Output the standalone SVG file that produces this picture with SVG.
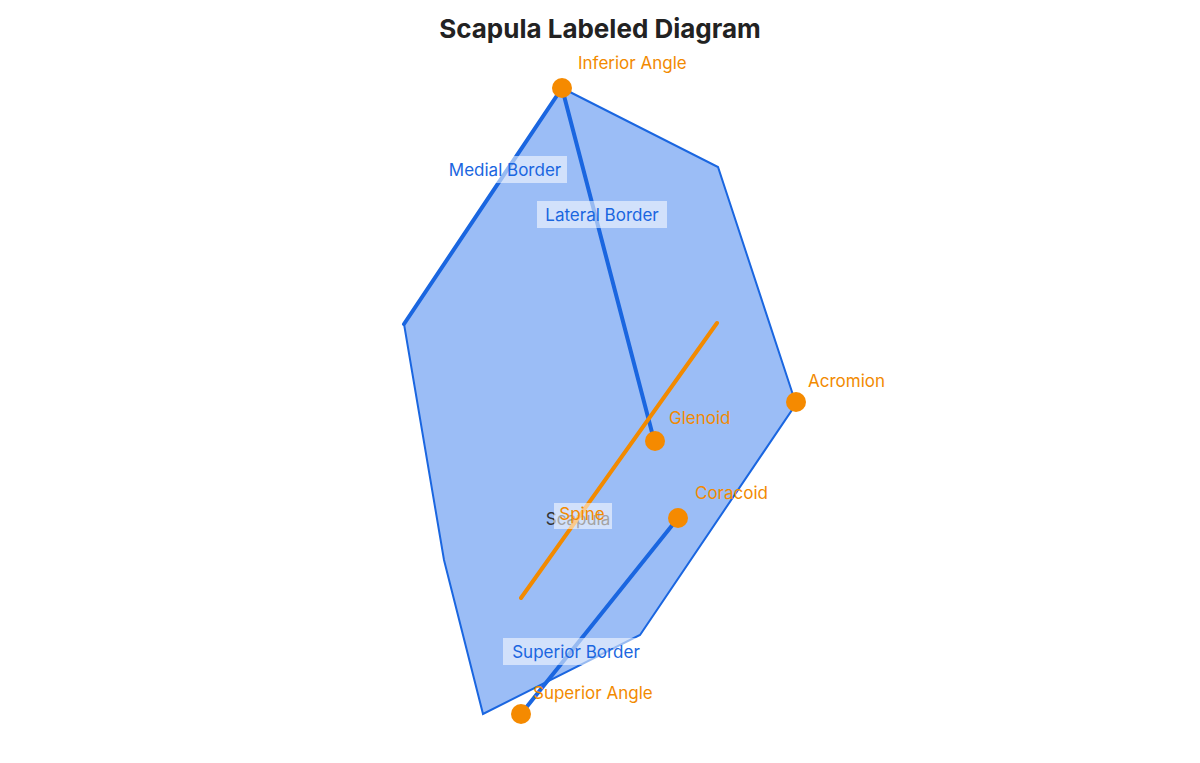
<svg xmlns="http://www.w3.org/2000/svg" width="1200" height="763" viewBox="0 0 1200 763">
<style>
text{font-family:Inter,"Liberation Sans",sans-serif;font-size:17px}
.o{fill:#f28a00}
.b{fill:#1a66e0}
.bg{fill:#ffffff;fill-opacity:0.55}
.pt{fill:#f58a00}
</style>
<rect width="1200" height="763" fill="#fff"/>
<text x="600" y="38" text-anchor="middle" style="font-size:26px;font-weight:bold" fill="#222">Scapula Labeled Diagram</text>
<g id="scapula">
<polygon points="562,88 718,167 796,404 640,635 483,714 444,560 404,324" fill="#9bbdf6" stroke="#1a66e0" stroke-width="2"/>
<text x="578" y="525" text-anchor="middle" fill="#333">Scapula</text>
</g>
<g id="connectors" stroke-linecap="round">
<line x1="404" y1="324" x2="562" y2="88" stroke="#1a66e0" stroke-width="4"/>
<line x1="562" y1="88" x2="654" y2="440" stroke="#1a66e0" stroke-width="4"/>
<line x1="521" y1="714" x2="678" y2="518" stroke="#1a66e0" stroke-width="4"/>
<line x1="521" y1="598" x2="717" y2="323" stroke="#f28a00" stroke-width="4"/>
</g>
<g id="medial-border"><rect class="bg" x="443" y="156" width="124" height="27"/><text class="b" x="505" y="176" text-anchor="middle">Medial Border</text></g>
<g id="lateral-border"><rect class="bg" x="537" y="201" width="130" height="27"/><text class="b" x="602" y="221" text-anchor="middle">Lateral Border</text></g>
<g id="superior-border"><rect class="bg" x="503" y="638" width="142" height="27"/><text class="b" x="576" y="658" text-anchor="middle">Superior Border</text></g>
<g id="spine"><rect class="bg" x="554" y="503" width="58" height="26"/><text class="o" x="582" y="520" text-anchor="middle">Spine</text></g>
<g id="inferior-angle"><circle class="pt" cx="562" cy="88" r="10"/><text class="o" x="578" y="69">Inferior Angle</text></g>
<g id="acromion"><circle class="pt" cx="796" cy="402" r="10"/><text class="o" x="808" y="387">Acromion</text></g>
<g id="glenoid"><circle class="pt" cx="655" cy="441" r="10"/><text class="o" x="669" y="424">Glenoid</text></g>
<g id="coracoid"><circle class="pt" cx="678" cy="518" r="10"/><text class="o" x="695" y="499">Coracoid</text></g>
<g id="superior-angle"><circle class="pt" cx="521" cy="714" r="10"/><text class="o" x="533" y="699">Superior Angle</text></g>
</svg>
